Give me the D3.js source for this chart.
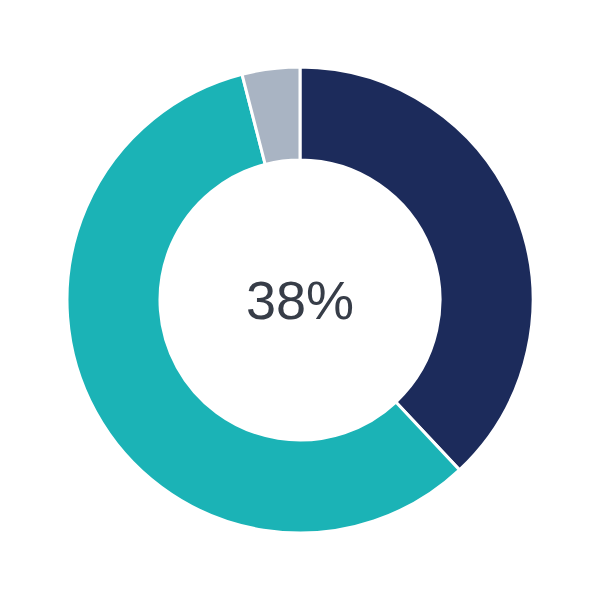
<!DOCTYPE html>
<html><head><meta charset="utf-8">
<script src="https://cdn.jsdelivr.net/npm/d3@7"></script>
<style>html,body{margin:0;padding:0;background:#fff;}</style>
</head><body>
<svg id="c" width="600" height="600"></svg>
<script>
const categories = ["A", "B", "C"];
const values = [38, 58, 4];
const colors = ["#1c2b5b", "#1bb3b6", "#a9b4c3"];
const centerLabel = "38%";

const svg = d3.select("#c");
const g = svg.append("g").attr("transform", "translate(300,300)");
const pie = d3.pie().sort(null).value(d => d.v);
const arc = d3.arc().innerRadius(140).outerRadius(233);
const data = categories.map((c, i) => ({c, v: values[i], col: colors[i]}));
g.selectAll("path").data(pie(data)).join("path")
  .attr("d", arc)
  .attr("fill", d => d.data.col)
  .attr("stroke", "#fff")
  .attr("stroke-width", 3);
g.append("text").text(centerLabel)
  .attr("text-anchor", "middle")
  .attr("dy", "0.36em")
  .attr("font-family", "Liberation Sans, Arial, sans-serif")
  .attr("font-size", 54)
  .attr("fill", "#373d48");
</script>
</body></html>
